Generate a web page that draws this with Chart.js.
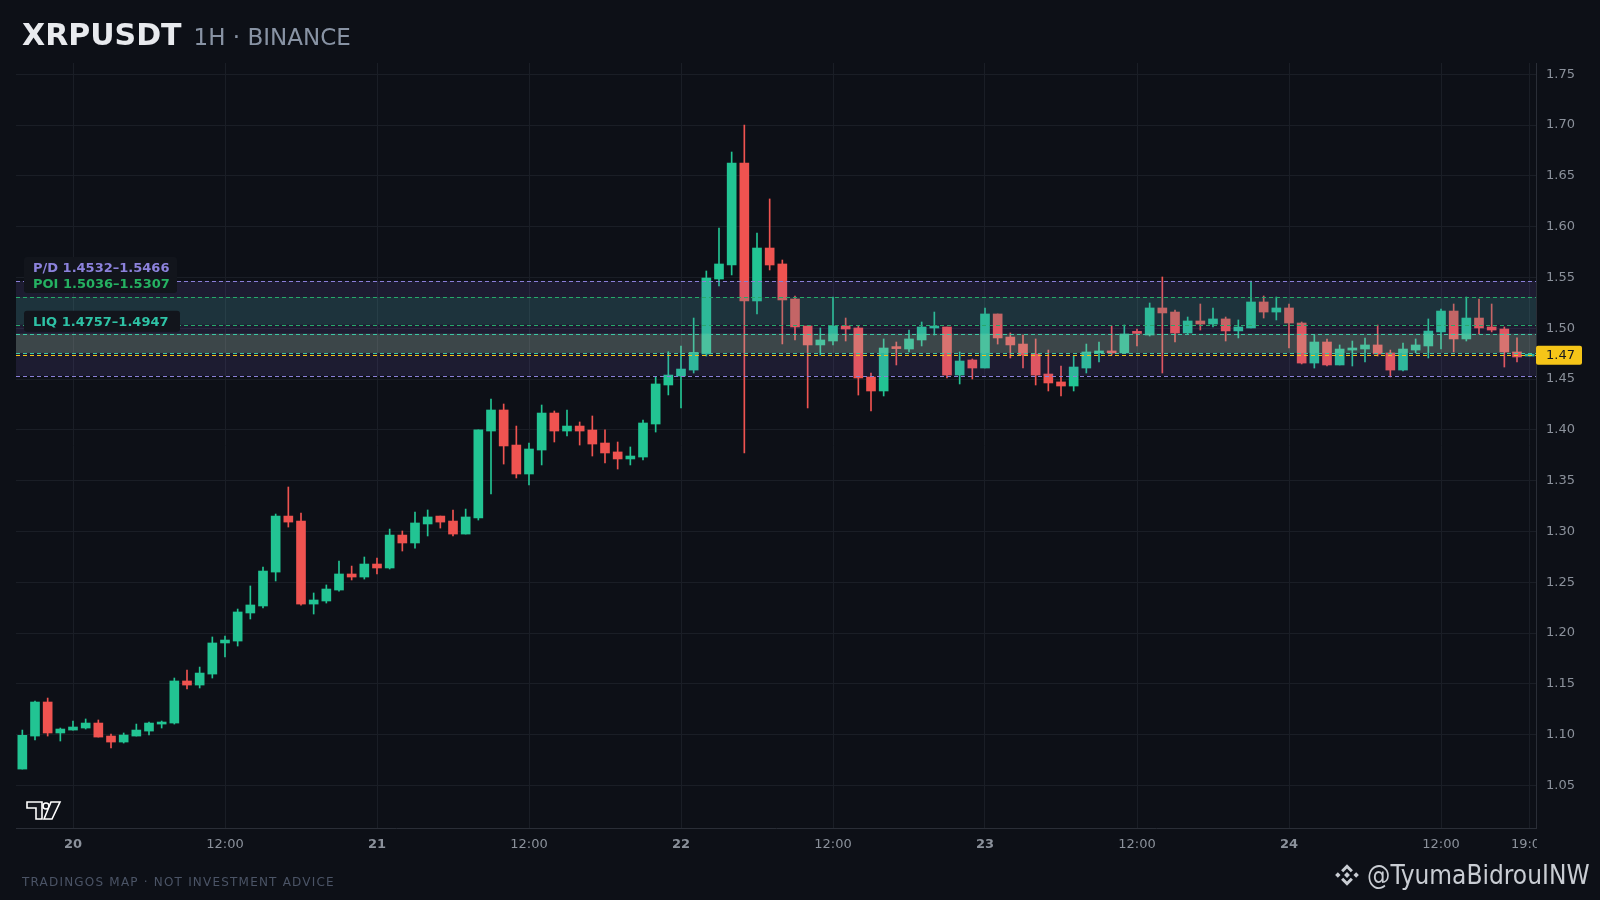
<!DOCTYPE html>
<html>
<head>
<meta charset="utf-8">
<title>XRPUSDT 1H · BINANCE</title>
<script src="https://cdn.jsdelivr.net/npm/chart.js@4.4.1/dist/chart.umd.min.js"></script>
<style>
  html, body { margin: 0; padding: 0; background: #0d1017; }
  #wrap { position: relative; width: 1600px; height: 900px; overflow: hidden; font-family: "DejaVu Sans", sans-serif; }
  #chart { position: absolute; left: 0; top: 0; }
  .title { position: absolute; left: 22px; top: 17px; line-height: 30px; white-space: nowrap; }
  .title .sym { font: 700 30px "DejaVu Sans", sans-serif; color: #e8eaee; }
  .title .tf { font: 400 23px "DejaVu Sans", sans-serif; color: #8893a4; margin-left: 12px; }
  .foot { position: absolute; left: 22px; top: 876px; font: 400 12px "DejaVu Sans", sans-serif; line-height: 12px; letter-spacing: 1.2px; color: #4b5466; white-space: nowrap; }
  .tv { position: absolute; left: 25px; top: 800px; }
  .mark { position: absolute; left: 1333px; top: 861px; display: flex; align-items: center; white-space: nowrap; }
  .mark span { font: 400 26px "DejaVu Sans Condensed", "DejaVu Sans", sans-serif; color: #c9cdd3; margin-left: 6px; line-height: 26px; }
</style>
</head>
<body>
<div id="wrap">
  <canvas id="chart" width="1600" height="900"></canvas>
  <div class="title"><span class="sym">XRPUSDT</span><span class="tf">1H · BINANCE</span></div>
  <svg class="tv" width="37" height="21" viewBox="0 0 37 21">
    <path d="M2 2 H17 V19 H11 V8 H2 Z" fill="#15181f" stroke="#fff" stroke-width="1.6" stroke-linejoin="miter"/>
    <circle cx="21" cy="6" r="3" fill="#15181f" stroke="#fff" stroke-width="1.6"/>
    <path d="M26 2 H35 L27 19 H19 Z" fill="#15181f" stroke="#fff" stroke-width="1.6"/>
  </svg>
  <div class="foot">TRADINGOS MAP · NOT INVESTMENT ADVICE</div>
  <div class="mark">
    <svg width="28" height="28" viewBox="0 0 26 26" fill="#c9cdd3">
      <path d="M13 3 L18.5 8.5 L16.5 10.5 L13 7 L9.5 10.5 L7.5 8.5 Z"/>
      <path d="M13 23 L7.5 17.5 L9.5 15.5 L13 19 L16.5 15.5 L18.5 17.5 Z"/>
      <path d="M13 10.3 L15.7 13 L13 15.7 L10.3 13 Z"/>
      <path d="M4.5 10.5 L7 13 L4.5 15.5 L2 13 Z"/>
      <path d="M21.5 10.5 L24 13 L21.5 15.5 L19 13 Z"/>
    </svg>
    <span>@TyumaBidrouINW</span>
  </div>
</div>
<script>
// hourly candles, first one is the 19th at 20:00
const startDay = 19;
const startHour = 20;

const open = [
  1.0662, 1.0987, 1.1322, 1.1017, 1.1046, 1.1066, 1.1115, 1.0987, 1.0928, 1.0987,
  1.1036, 1.1105, 1.1115, 1.1529, 1.1489, 1.1597, 1.1903, 1.1922, 1.2198, 1.2267,
  1.2601, 1.3152, 1.3103, 1.2286, 1.2316, 1.2424, 1.2582, 1.2552, 1.2680, 1.2641,
  1.2965, 1.2887, 1.3074, 1.3152, 1.3103, 1.2975, 1.3133, 1.3989, 1.4196, 1.3851,
  1.3566, 1.3802, 1.4166, 1.3989, 1.4038, 1.3999, 1.3871, 1.3783, 1.3714, 1.3733,
  1.4058, 1.4442, 1.4530, 1.4589, 1.4747, 1.5485, 1.5623, 1.6627, 1.5269, 1.5790,
  1.5633, 1.5288, 1.5023, 1.4836, 1.4875, 1.5023, 1.5003, 1.4521, 1.4383, 1.4807,
  1.4796, 1.4885, 1.5003, 1.5013, 1.4540, 1.4688, 1.4609, 1.5141, 1.4914, 1.4845,
  1.4747, 1.4550, 1.4472, 1.4432, 1.4609, 1.4757, 1.4777, 1.4757, 1.4960, 1.4934,
  1.5200, 1.5160, 1.4954, 1.5072, 1.5042, 1.5092, 1.4974, 1.5003, 1.5259, 1.5160,
  1.5200, 1.5052, 1.4658, 1.4865, 1.4639, 1.4786, 1.4796, 1.4836, 1.4757, 1.4589,
  1.4786, 1.4826, 1.4964, 1.5170, 1.4895, 1.5101, 1.5013, 1.4993, 1.4767, 1.4727
];
const high = [
  1.1046, 1.1332, 1.1361, 1.1066, 1.1135, 1.1155, 1.1145, 1.1007, 1.1017, 1.1105,
  1.1125, 1.1135, 1.1558, 1.1637, 1.1666, 1.1962, 1.1972, 1.2237, 1.2464, 1.2650,
  1.3172, 1.3438, 1.3182, 1.2395, 1.2474, 1.2710, 1.2660, 1.2749, 1.2739, 1.3024,
  1.3005, 1.3192, 1.3212, 1.3152, 1.3212, 1.3221, 1.4000, 1.4304, 1.4255, 1.4038,
  1.3871, 1.4245, 1.4186, 1.4196, 1.4078, 1.4137, 1.4001, 1.3881, 1.3832, 1.4097,
  1.4521, 1.4769, 1.4826, 1.5101, 1.5564, 1.5987, 1.6735, 1.7001, 1.5938, 1.6273,
  1.5672, 1.5318, 1.5023, 1.5003, 1.5308, 1.5101, 1.5023, 1.4560, 1.4895, 1.4865,
  1.4983, 1.5062, 1.5160, 1.5013, 1.4767, 1.4698, 1.5200, 1.5141, 1.4954, 1.4934,
  1.4895, 1.4786, 1.4629, 1.4727, 1.4845, 1.4865, 1.5023, 1.5033, 1.4993, 1.5249,
  1.5505, 1.5180, 1.5111, 1.5239, 1.5200, 1.5111, 1.5082, 1.5465, 1.5318, 1.5308,
  1.5239, 1.5062, 1.4934, 1.4895, 1.4836, 1.4875, 1.4904, 1.5032, 1.4786, 1.4855,
  1.4895, 1.5092, 1.5190, 1.5239, 1.5308, 1.5288, 1.5239, 1.5013, 1.4905, 1.4737
];
const low = [
  1.0662, 1.0948, 1.0987, 1.0938, 1.1046, 1.1056, 1.0977, 1.0869, 1.0918, 1.0987,
  1.0997, 1.1066, 1.1105, 1.1450, 1.1460, 1.1558, 1.1765, 1.1873, 1.2139, 1.2247,
  1.2513, 1.3044, 1.2276, 1.2188, 1.2296, 1.2414, 1.2523, 1.2532, 1.2582, 1.2631,
  1.2808, 1.2837, 1.2956, 1.3034, 1.2956, 1.2975, 1.3113, 1.3369, 1.3664, 1.3527,
  1.3458, 1.3655, 1.3881, 1.3940, 1.3851, 1.3743, 1.3674, 1.3615, 1.3655, 1.3704,
  1.3979, 1.4344, 1.4216, 1.4560, 1.4727, 1.5416, 1.5525, 1.3773, 1.5141, 1.5574,
  1.4846, 1.4885, 1.4216, 1.4737, 1.4836, 1.4875, 1.4343, 1.4186, 1.4334, 1.4639,
  1.4767, 1.4826, 1.4934, 1.4511, 1.4452, 1.4501, 1.4609, 1.4845, 1.4708, 1.4609,
  1.4442, 1.4383, 1.4334, 1.4383, 1.4560, 1.4668, 1.4737, 1.4757, 1.4826, 1.4924,
  1.4560, 1.4865, 1.4944, 1.4983, 1.5013, 1.4875, 1.4905, 1.5003, 1.5101, 1.5082,
  1.4806, 1.4649, 1.4609, 1.4629, 1.4639, 1.4629, 1.4668, 1.4727, 1.4521, 1.4580,
  1.4757, 1.4708, 1.4796, 1.4767, 1.4875, 1.4944, 1.4964, 1.4619, 1.4668, 1.4727
];
const close = [
  1.0994, 1.1322, 1.1017, 1.1056, 1.1076, 1.1115, 1.0977, 1.0928, 1.0997, 1.1046,
  1.1115, 1.1125, 1.1529, 1.1489, 1.1607, 1.1903, 1.1932, 1.2208, 1.2277, 1.2611,
  1.3152, 1.3093, 1.2286, 1.2326, 1.2434, 1.2582, 1.2552, 1.2680, 1.2641, 1.2965,
  1.2887, 1.3084, 1.3143, 1.3093, 1.2975, 1.3143, 1.4000, 1.4196, 1.3842, 1.3566,
  1.3812, 1.4166, 1.3989, 1.4038, 1.3989, 1.3861, 1.3773, 1.3714, 1.3743, 1.4068,
  1.4452, 1.4540, 1.4599, 1.4763, 1.5495, 1.5633, 1.6627, 1.5269, 1.5790, 1.5623,
  1.5279, 1.5013, 1.4836, 1.4885, 1.5023, 1.4993, 1.4511, 1.4383, 1.4806, 1.4800,
  1.4895, 1.5013, 1.5022, 1.4540, 1.4678, 1.4609, 1.5141, 1.4905, 1.4836, 1.4737,
  1.4540, 1.4462, 1.4432, 1.4619, 1.4767, 1.4777, 1.4757, 1.4944, 1.4950, 1.5200,
  1.5151, 1.4954, 1.5072, 1.5042, 1.5092, 1.4974, 1.5013, 1.5259, 1.5160, 1.5200,
  1.5052, 1.4658, 1.4865, 1.4639, 1.4796, 1.4806, 1.4836, 1.4747, 1.4589, 1.4796,
  1.4836, 1.4973, 1.5170, 1.4895, 1.5101, 1.5003, 1.4983, 1.4767, 1.4718, 1.4737
];

const yTicks = [1.05, 1.10, 1.15, 1.20, 1.25, 1.30, 1.35, 1.40, 1.45, 1.50, 1.55, 1.60, 1.65, 1.70, 1.75];
const zoneNames = ['P/D', 'POI', 'LIQ'];
const zoneLow = [1.4532, 1.5036, 1.4757];
const zoneHigh = [1.5466, 1.5307, 1.4947];
const lastPrice = 1.4734;

const UP = '#22c493';
const DOWN = '#ef5350';
const BG = '#0d1017';
const GRID = '#1a1e26';
const AXIS_TEXT = '#8b919b';

const labels = open.map((_, i) => {
  const h = startHour + i;
  return (startDay + Math.floor(h / 24)) + ' ' + String(h % 24).padStart(2, '0') + ':00';
});

function tickText(i) {
  if (i === labels.length - 1) return labels[i].split(' ')[1];
  const [day, time] = labels[i].split(' ');
  if (time === '00:00') return day;
  if (time === '12:00') return time;
  return '';
}

const candleColors = close.map((c, i) => (c >= open[i] ? UP : DOWN));

const zoneFill = ['rgba(125,105,210,0.14)', 'rgba(34,197,130,0.14)', 'rgba(190,235,170,0.2)'];
const zoneLine = ['#8a7fd8', '#27a96a', '#3cc6a5'];
const zoneText = ['#8c82dc', '#25b262', '#2ec2a5'];

function roundRect(ctx, x, y, w, h, r) {
  ctx.beginPath();
  ctx.roundRect(x, y, w, h, r);
  ctx.fill();
}

const zonesPlugin = {
  id: 'zones',
  afterDatasetsDraw(chart) {
    const { ctx, chartArea: a, scales: { y } } = chart;
    ctx.save();
    ctx.beginPath();
    ctx.rect(a.left, a.top, a.right - a.left, a.bottom - a.top);
    ctx.clip();
    zoneNames.forEach((_, i) => {
      const top = y.getPixelForValue(zoneHigh[i]);
      const bot = y.getPixelForValue(zoneLow[i]);
      ctx.fillStyle = zoneFill[i];
      ctx.fillRect(a.left, top, a.right - a.left, bot - top);
    });
    ctx.lineWidth = 1;
    ctx.setLineDash([4, 3]);
    zoneNames.forEach((_, i) => {
      ctx.strokeStyle = zoneLine[i];
      [zoneHigh[i], zoneLow[i]].forEach(v => {
        const py = Math.round(y.getPixelForValue(v)) + 0.5;
        ctx.beginPath();
        ctx.moveTo(a.left, py);
        ctx.lineTo(a.right, py);
        ctx.stroke();
      });
    });
    const pp = Math.round(y.getPixelForValue(lastPrice)) + 0.5;
    ctx.strokeStyle = '#f5c518';
    ctx.beginPath();
    ctx.moveTo(a.left, pp);
    ctx.lineTo(a.right, pp);
    ctx.stroke();
    ctx.restore();
  },
  afterDraw(chart) {
    const { ctx, chartArea: a, scales: { y } } = chart;
    ctx.save();
    // the last time label is cut by the plot edge
    ctx.fillStyle = BG;
    ctx.fillRect(a.right + 1, a.bottom + 2, 64, 26);

    const label = i => zoneNames[i] + ' ' + zoneLow[i].toFixed(4) + '–' + zoneHigh[i].toFixed(4);
    ctx.font = 'bold 13px "DejaVu Sans"';
    ctx.textBaseline = 'alphabetic';
    ctx.textAlign = 'left';

    const pdTop = y.getPixelForValue(zoneHigh[0]);
    ctx.fillStyle = '#12151c';
    roundRect(ctx, a.left + 8, pdTop - 24, 153, 36, 3);
    ctx.fillStyle = zoneText[0];
    ctx.fillText(label(0), a.left + 17, pdTop - 9);
    ctx.fillStyle = zoneText[1];
    ctx.fillText(label(1), a.left + 17, pdTop + 7);

    const poiBot = y.getPixelForValue(zoneLow[1]);
    ctx.fillStyle = '#12151c';
    roundRect(ctx, a.left + 8, poiBot - 14, 156, 21, 3);
    ctx.fillStyle = zoneText[2];
    ctx.fillText(label(2), a.left + 17, poiBot + 1);

    const pp = y.getPixelForValue(lastPrice);
    ctx.fillStyle = '#f5c518';
    roundRect(ctx, a.right, pp - 9.5, 46, 19, 2);
    ctx.fillStyle = '#131722';
    ctx.font = '13px "DejaVu Sans"';
    ctx.textBaseline = 'middle';
    ctx.fillText(lastPrice.toFixed(2), a.right + 10, pp + 0.5);
    ctx.restore();
  }
};

const data = {
  labels: labels,
  datasets: [
    {
      label: 'wick',
      data: low.map((l, i) => [l, high[i]]),
      backgroundColor: candleColors,
      barThickness: 1,
      grouped: false,
      order: 2,
    },
    {
      label: 'body',
      data: open.map((o, i) => [o, close[i]]),
      backgroundColor: candleColors,
      barThickness: 9,
      minBarLength: 2,
      grouped: false,
      order: 1,
    },
  ],
};

const config = {
  type: 'bar',
  data: data,
  options: {
    responsive: false,
    animation: false,
    devicePixelRatio: 1,
    layout: { padding: { left: 16, top: 63, right: 0, bottom: 44 } },
    plugins: { legend: { display: false }, tooltip: { enabled: false } },
    scales: {
      x: {
        offset: true,
        grid: {
          offset: false,
          drawTicks: false,
          color: c => (tickText(c.index) ? GRID : 'rgba(0,0,0,0)'),
        },
        border: { color: '#2a2e37' },
        ticks: {
          autoSkip: false,
          maxRotation: 0,
          padding: 9,
          color: AXIS_TEXT,
          font: c => ({ family: 'DejaVu Sans', size: 13, weight: /^\d+$/.test(tickText(c.index)) ? 'bold' : 'normal' }),
          callback: (v, i) => tickText(i),
        },
        afterFit: s => { s.height = 28; },
      },
      y: {
        position: 'right',
        min: 1.0082,
        max: 1.7611,
        afterBuildTicks: s => { s.ticks = yTicks.map(v => ({ value: v })); },
        grid: { color: GRID, drawTicks: false },
        border: { color: '#2a2e37' },
        ticks: {
          padding: 10,
          color: AXIS_TEXT,
          font: { family: 'DejaVu Sans', size: 13 },
          callback: v => Number(v).toFixed(2),
        },
        afterFit: s => { s.width = 64; },
      },
    },
  },
  plugins: [zonesPlugin],
};

const myChart = new Chart(document.getElementById('chart').getContext('2d'), config);
</script>
</body>
</html>
